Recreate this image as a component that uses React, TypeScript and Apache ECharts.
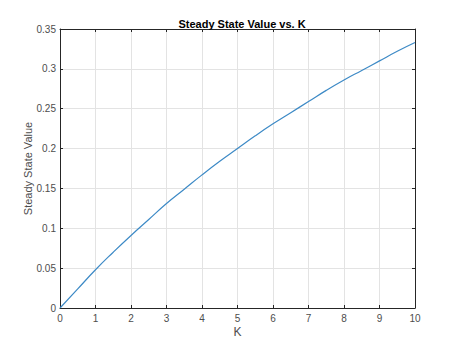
import React, { useEffect, useRef } from "react";
import * as echarts from "echarts";

const kValues = [0, 0.5, 1, 1.5, 2, 2.5, 3, 3.5, 4, 4.5, 5, 5.5, 6, 6.5, 7, 7.5, 8, 8.5, 9, 9.5, 10];
const steadyValues = [0, 0.024, 0.048, 0.070, 0.091, 0.111, 0.131, 0.149, 0.167, 0.184, 0.200, 0.216, 0.231, 0.245, 0.259, 0.273, 0.286, 0.298, 0.310, 0.322, 0.333];
const xTicks = [0, 1, 2, 3, 4, 5, 6, 7, 8, 9, 10];
const yTicks = [0, 0.05, 0.1, 0.15, 0.2, 0.25, 0.3, 0.35];

export default function App() {
  const ref = useRef<HTMLDivElement>(null);
  useEffect(() => {
    if (!ref.current) return;
    const chart = echarts.init(ref.current, undefined, { renderer: "svg" });
    const font = "Liberation Sans, Arial, sans-serif";
    const axisColor = "#262626";
    const labelColor = "#4d4d4d";
    const gridColor = "#e3e3e3";
    const common = {
      min: xTicks[0],
      max: xTicks[xTicks.length - 1],
      interval: 1,
    };
    const ycommon = {
      min: yTicks[0],
      max: yTicks[yTicks.length - 1],
      interval: 0.05,
    };
    chart.setOption({
      animation: false,
      backgroundColor: "#ffffff",
      title: {
        text: "Steady State Value vs. K",
        left: 237,
        textAlign: "center",
        top: 13,
        textStyle: { fontFamily: font, fontSize: 11, fontWeight: "bold", color: "#000" },
      },
      grid: { left: 60, right: 59, top: 29, bottom: 41, containLabel: false },
      graphic: [
        {
          type: "line",
          shape: { x1: 0, y1: 2, x2: 459, y2: 2 },
          style: { stroke: "#dcdcdc", lineWidth: 1 },
        },
      ],
      xAxis: [
        {
          type: "value",
          ...common,
          position: "bottom",
          name: "K",
          nameLocation: "middle",
          nameGap: 18,
          nameMoveOverlap: false,
          nameTextStyle: { fontFamily: font, fontSize: 12, color: labelColor },
          axisLine: { show: true, onZero: false, lineStyle: { color: axisColor, width: 1 } },
          axisTick: { show: true, inside: true, length: 3, lineStyle: { color: axisColor } },
          axisLabel: { fontFamily: font, fontSize: 10, color: labelColor, margin: 5 },
          splitLine: { show: true, lineStyle: { color: gridColor, width: 1 } },
        },
        {
          type: "value",
          ...common,
          position: "top",
          axisLine: { show: true, onZero: false, lineStyle: { color: axisColor, width: 1 } },
          axisTick: { show: true, inside: true, length: 3, lineStyle: { color: axisColor } },
          axisLabel: { show: false },
          splitLine: { show: false },
        },
      ],
      yAxis: [
        {
          type: "value",
          ...ycommon,
          position: "left",
          name: "Steady State Value",
          nameLocation: "middle",
          nameGap: 27,
          nameMoveOverlap: false,
          nameTextStyle: { fontFamily: font, fontSize: 11, color: labelColor },
          axisLine: { show: true, onZero: false, lineStyle: { color: axisColor, width: 1 } },
          axisTick: { show: true, inside: true, length: 3, lineStyle: { color: axisColor } },
          axisLabel: { fontFamily: font, fontSize: 10, color: labelColor, margin: 4 },
          splitLine: { show: true, lineStyle: { color: gridColor, width: 1 } },
        },
        {
          type: "value",
          ...ycommon,
          position: "right",
          axisLine: { show: true, onZero: false, lineStyle: { color: axisColor, width: 1 } },
          axisTick: { show: true, inside: true, length: 3, lineStyle: { color: axisColor } },
          axisLabel: { show: false },
          splitLine: { show: false },
        },
      ],
      series: [
        {
          type: "line",
          data: kValues.map((k, i) => [k, steadyValues[i]]),
          showSymbol: false,
          smooth: true,
          lineStyle: { color: "#3d8ac6", width: 1.2 },
          xAxisIndex: 0,
          yAxisIndex: 0,
        },
      ],
    });
    return () => chart.dispose();
  }, []);
  return <div ref={ref} style={{ width: 474, height: 349, margin: -8 }} />;
}
